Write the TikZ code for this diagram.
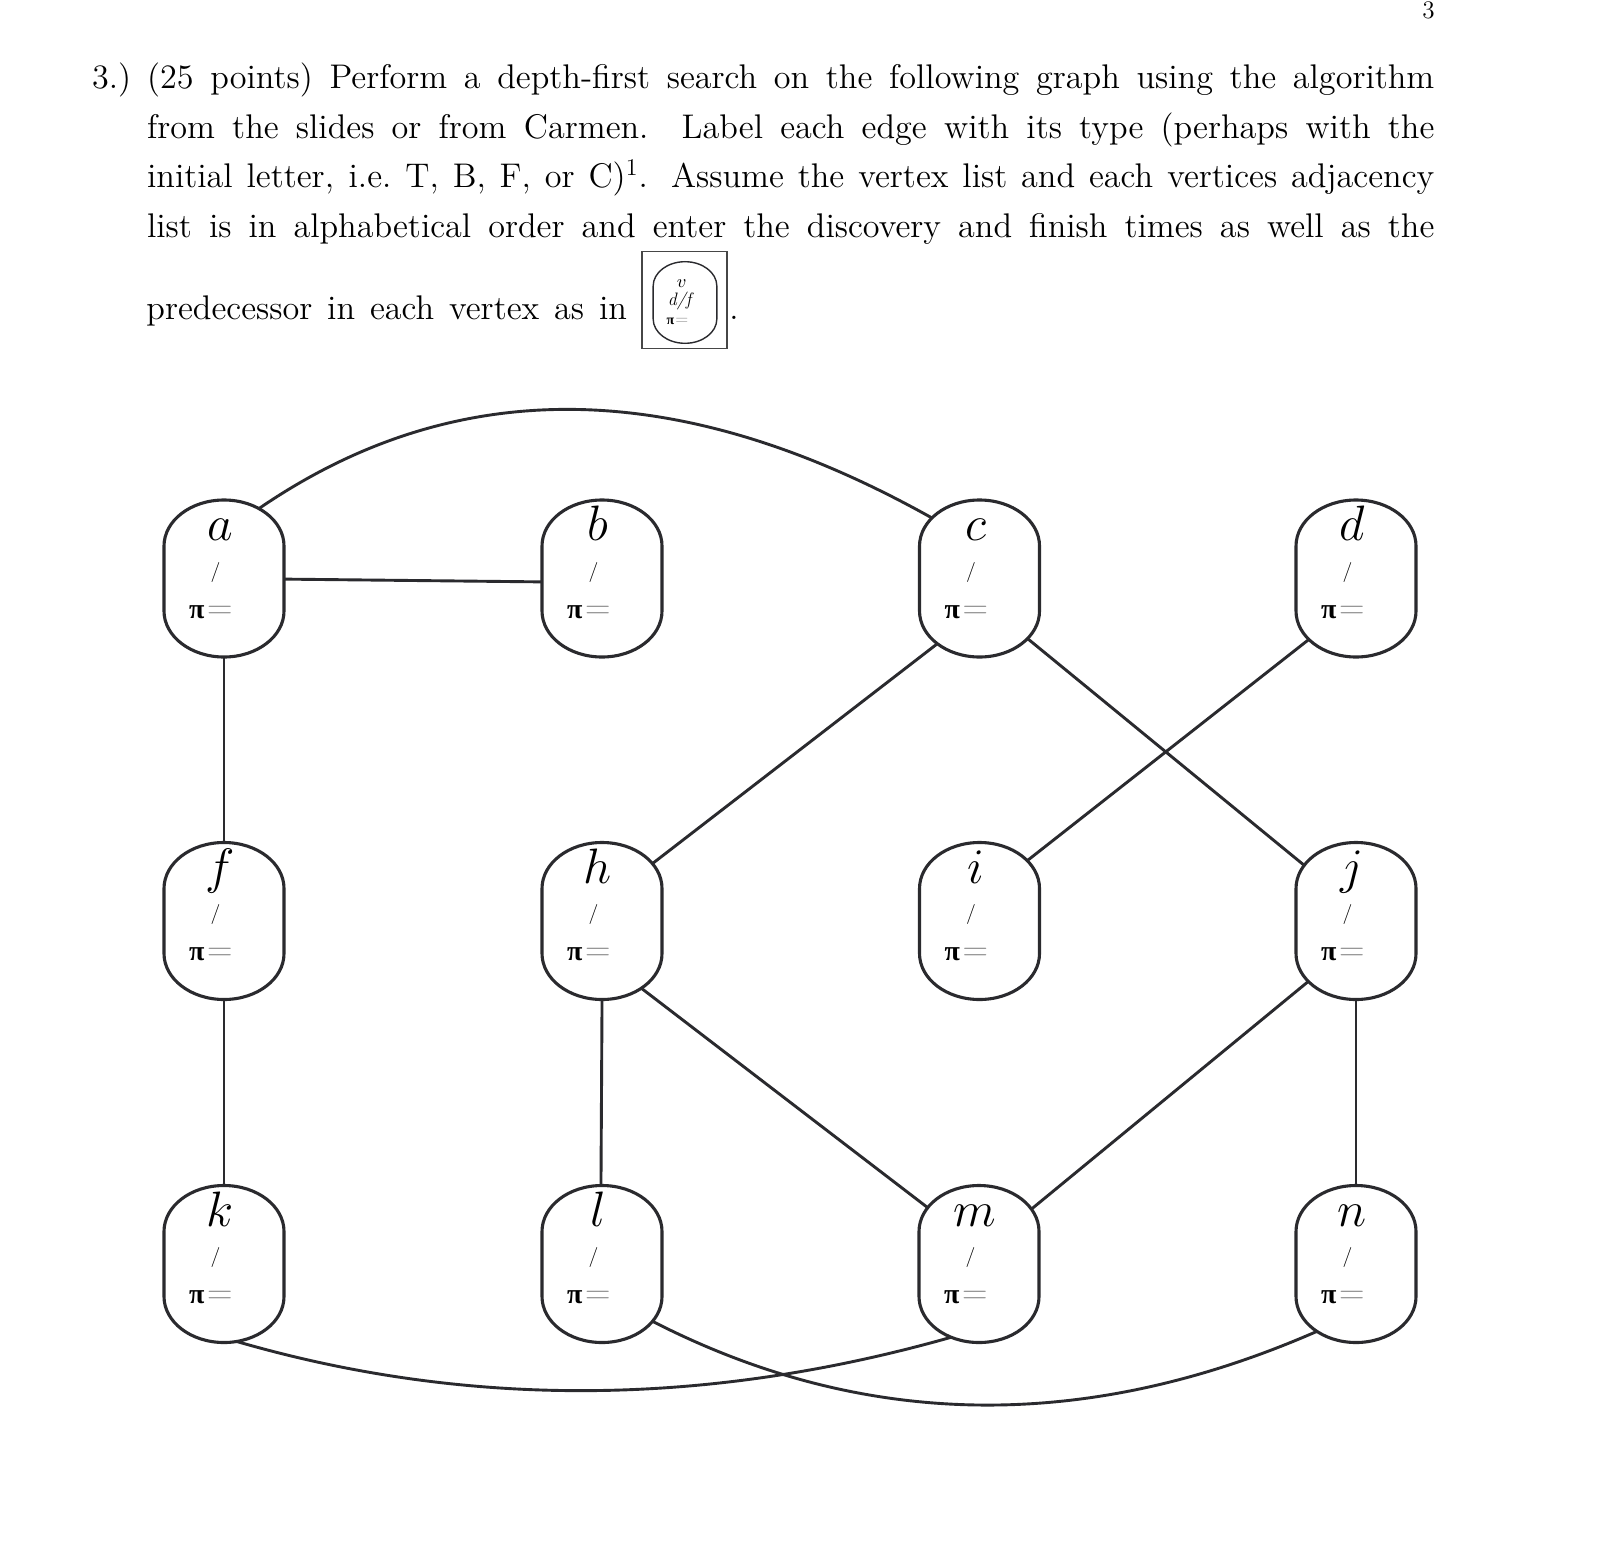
\documentclass[tikz,border=0pt]{standalone}
\usepackage{fontspec}
\setmainfont{lmroman12-regular.otf}[ItalicFont=lmroman12-italic.otf]
\newfontfamily\pifont{Liberation Serif}
\usetikzlibrary{calc}
\definecolor{ink}{RGB}{42,42,46}
\definecolor{eqgray}{RGB}{150,150,150}
\definecolor{boxgray}{RGB}{70,70,70}
\pgfdeclarelayer{bg}\pgfdeclarelayer{mid}\pgfsetlayers{bg,mid,main}
\newcommand\vtx[4]{%
  \node[vbox] (#1) at (#2,#3) {};
  \node[lettr] (#1-l) at ($(#1)+(-4,-38)$) {$#4$};
  \node[slsh] (#1-s) at ($(#1)+(-8.5,-1.5)$) {/};
  \node[pieq] (#1-p) at ($(#1)+(-13,39.5)$) {{\pifont\bfseries\fontsize{14}{16}\selectfont π}\hspace{1.2pt}{\fontsize{17}{20}\selectfont\textcolor{eqgray}{=}}};
  \begin{pgfonlayer}{mid}
  \filldraw[vout] ($(#1)+(-60,-32.5)$) arc[start angle=180,end angle=360,x radius=60,y radius=46]
     -- ($(#1)+(60,32.5)$) arc[start angle=0,end angle=180,x radius=60,y radius=46] -- cycle;
  \end{pgfonlayer}}
\begin{document}
\begin{tikzpicture}[x=0.5pt,y=-0.5pt,
  vbox/.style={draw=none,minimum width=60pt,minimum height=78.5pt,inner sep=0pt},
  lettr/.style={anchor=base,inner sep=0pt,font=\fontsize{25}{30}\selectfont},
  slsh/.style={anchor=base,inner sep=0pt,font=\fontsize{10}{12}\selectfont},
  pieq/.style={anchor=base,inner sep=0pt},
  vout/.style={line width=1.55pt,draw=ink,fill=white},
  edge/.style={line width=1.45pt,draw=ink},
  txt/.style={inner sep=0pt,font=\fontsize{17.1}{24.75}\selectfont}]
\useasboundingbox (0,0) rectangle (1604,1540);
\begin{pgfonlayer}{bg}
\fill[white] (0,0) rectangle (1604,1540);
\end{pgfonlayer}

% text
\node[inner sep=0pt,anchor=base east,font=\fontsize{12.6}{15}\selectfont] (pg) at (1435,18.3) {3};
\node[txt,anchor=base west] (para) at (91.7,89)
 {\begin{minipage}[t]{671.15pt}\noindent\hangindent=27.5pt\hangafter=1\parfillskip=0pt\makebox[27.5pt][l]{3.)}(25 points) Perform a depth-first search on the following graph using the algorithm\linebreak
 from the slides or from Carmen. Label each edge with its type (perhaps with the\linebreak
 initial letter, i.e.\ T, B, F, or C)$^1$. Assume the vertex list and each vertices adjacency\linebreak
 list is in alphabetical order and enter the discovery and finish times as well as the\par\end{minipage}};
\node[txt,anchor=base west] (pred) at (146,320) {\makebox[240.3pt][s]{predecessor in each vertex as in}};
\node[txt,anchor=base west] (dot) at (729,320) {.};

% example box
\node[draw=boxgray,line width=0.6pt,minimum width=42.5pt,minimum height=48.5pt,inner sep=0pt] (ex) at (684.5,300) {};
\coordinate (exv) at (685,302.5);
\filldraw[line width=0.7pt,draw=ink,fill=white] ($(exv)+(-31.85,-16.4)$) arc[start angle=180,end angle=360,x radius=31.85,y radius=24.4]
   -- ($(exv)+(31.85,16.4)$) arc[start angle=0,end angle=180,x radius=31.85,y radius=24.4] -- cycle;
\node[anchor=base,inner sep=0pt,font=\fontsize{9.5}{11}\selectfont] (exl) at (681.7,288) {$v$};
\node[anchor=base,inner sep=0pt,font=\fontsize{9}{10}\selectfont] (exd) at (681,306) {\textit{d/f}};
\node[anchor=base,inner sep=0pt] (exp) at (677.5,325) {{\pifont\bfseries\fontsize{7}{8}\selectfont π}\hspace{0.6pt}{\fontsize{8.5}{10}\selectfont\textcolor{eqgray}{=}}};

% vertices
\vtx{a}{224}{578.5}{a}
\vtx{b}{602}{578.5}{b}
\vtx{c}{979.5}{578.5}{c}
\vtx{d}{1356}{578.5}{d}
\vtx{f}{224}{921}{f}
\vtx{h}{602}{921}{h}
\vtx{i}{979.5}{921}{i}
\vtx{j}{1356}{921}{j}
\vtx{k}{224}{1264}{k}
\vtx{l}{602}{1264}{l}
\vtx{m}{979}{1264}{m}
\vtx{n}{1356}{1264}{n}

% edges
\begin{pgfonlayer}{bg}
\draw[edge] ($(a)+(50,0.5)$) -- ($(b)+(-50,3.5)$);
\draw[edge] ($(a)+(30,-66.5)$) .. controls (453.3,372.7) and (678,375.7) .. ($(c)+(-47.5,-60.5)$);
\draw[edge] (a) -- (f);
\draw[edge] (f) -- (k);
\draw[edge] ($(h)+(0.5,0)$) -- ($(l)+(-1.5,0)$);
\draw[edge] (j) -- (n);
\draw[edge] ($(c)+(-31,56.6)$) -- ($(h)+(38.5,-48.2)$);
\draw[edge] ($(c)+(37.2,51.2)$) -- ($(j)+(-41.7,-47.4)$);
\draw[edge] ($(d)+(-35,51.4)$) -- ($(i)+(36.1,-51.2)$);
\draw[edge] ($(h)+(29.5,59.7)$) -- ($(m)+(-40,-47.7)$);
\draw[edge] ($(j)+(-36.7,51.4)$) -- ($(m)+(40,-44.7)$);
\draw[edge] ($(k)+(1,74)$) .. controls (460,1408.7) and (702.3,1408) .. ($(m)+(-27,73)$);
\draw[edge] ($(l)+(48,56)$) .. controls (862.7,1430) and (1086,1433.3) .. ($(n)+(-36,66)$);
\end{pgfonlayer}
\end{tikzpicture}
\end{document}
